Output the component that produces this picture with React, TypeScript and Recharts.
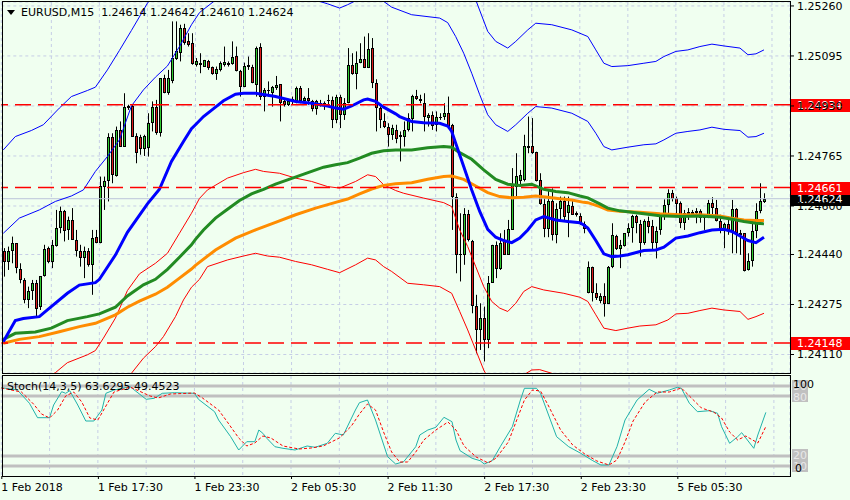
import React from "react";
import { Bar, CartesianGrid, ComposedChart, Line, ReferenceLine, XAxis, YAxis } from "recharts";

const FONT = "DejaVu Sans";
const BG = "#F0FFF0";
const GRID = "#C6CEE6";
const BULL = "#2FCB2F";
const BEAR = "#DD1A1A";

const symbol = "EURUSD,M15";
const lastBar = [1.24614, 1.24642, 1.2461, 1.24624];

// 15 min candles, 1 Feb 11:30 .. 5 Feb 11:00
const opens = [
  1.2445, 1.24416, 1.2445, 1.24477, 1.24391, 1.24356, 1.2429, 1.24318, 1.24347, 1.24268,
  1.24369, 1.24461, 1.24416, 1.24468, 1.24527, 1.24582, 1.24521, 1.24554, 1.24488, 1.2445,
  1.24427, 1.2445, 1.24406, 1.24497, 1.24477, 1.24664, 1.24681, 1.24829, 1.247, 1.24851,
  1.24796, 1.24923, 1.2493, 1.24831, 1.24829, 1.24787, 1.24791, 1.24873, 1.24926, 1.2484,
  1.25022, 1.24974, 1.25011, 1.25084, 1.25106, 1.25187, 1.25143, 1.25137, 1.25066, 1.25073,
  1.2506, 1.25079, 1.25058, 1.25036, 1.25049, 1.25066, 1.25071, 1.25069, 1.25095, 1.25047,
  1.24992, 1.2506, 1.2506, 1.25, 1.25124, 1.24961, 1.24983, 1.24974, 1.24989, 1.25002,
  1.24945, 1.24934, 1.24945, 1.24945, 1.24989, 1.24945, 1.24956, 1.24945, 1.24919, 1.24934,
  1.24941, 1.24945, 1.2495, 1.24884, 1.24961, 1.24901, 1.24939, 1.25066, 1.25036, 1.25071,
  1.25084, 1.25055, 1.25121, 1.25005, 1.24923, 1.24882, 1.2486, 1.24835, 1.24851, 1.24829,
  1.24829, 1.24851, 1.24886, 1.24964, 1.24952, 1.24941, 1.2489, 1.24901, 1.24868, 1.2489,
  1.24893, 1.24908, 1.24868, 1.24629, 1.24439, 1.24439, 1.24574, 1.24486, 1.2427, 1.24191,
  1.2423, 1.24158, 1.24347, 1.24472, 1.24391, 1.24483, 1.24439, 1.24521, 1.24664, 1.24681,
  1.24686, 1.24791, 1.24798, 1.24779, 1.24686, 1.24607, 1.24523, 1.24615, 1.24505, 1.24589,
  1.24615, 1.24576, 1.246, 1.24571, 1.24567, 1.24541, 1.24314, 1.244, 1.24314, 1.24285,
  1.24303, 1.24277, 1.244, 1.24501, 1.24457, 1.24469, 1.2451, 1.24527, 1.24567, 1.24541,
  1.24477, 1.24551, 1.24534, 1.24479, 1.24521, 1.24571, 1.24604, 1.24642, 1.24626, 1.24609,
  1.24543, 1.24574, 1.24579, 1.24576, 1.24583, 1.24565, 1.24565, 1.24611, 1.24593, 1.24552,
  1.24521, 1.24541, 1.24516, 1.24589, 1.2451, 1.2451, 1.24389, 1.24417, 1.24516, 1.24585,
  lastBar[0],
];
const highs = [
  1.24461, 1.24466, 1.24499, 1.24477, 1.24411, 1.24362, 1.24334, 1.24356, 1.24356, 1.24369,
  1.24472, 1.24466, 1.24488, 1.24587, 1.24598, 1.24587, 1.24565, 1.24593, 1.24521, 1.24472,
  1.24466, 1.24461, 1.24521, 1.24521, 1.24697, 1.24697, 1.2484, 1.2484, 1.24862, 1.24879,
  1.24972, 1.24934, 1.24934, 1.2484, 1.24835, 1.24835, 1.24906, 1.24945, 1.2495, 1.25022,
  1.25033, 1.25049, 1.25209, 1.25209, 1.25198, 1.25201, 1.2517, 1.2517, 1.25088, 1.25104,
  1.25082, 1.25082, 1.2506, 1.2506, 1.25077, 1.25126, 1.25077, 1.25143, 1.25126, 1.25049,
  1.25073, 1.25093, 1.25066, 1.25126, 1.25137, 1.24989, 1.25011, 1.24996, 1.25029, 1.25002,
  1.2495, 1.2495, 1.24961, 1.24994, 1.24996, 1.24961, 1.24989, 1.2495, 1.2495, 1.2495,
  1.24945, 1.24967, 1.24961, 1.24967, 1.24967, 1.24956, 1.25121, 1.25104, 1.2511, 1.25137,
  1.25159, 1.2517, 1.25154, 1.25018, 1.24928, 1.24906, 1.24873, 1.24868, 1.24868, 1.24846,
  1.24879, 1.24906, 1.24967, 1.24983, 1.24967, 1.24972, 1.24906, 1.24912, 1.24912, 1.24906,
  1.24939, 1.24961, 1.24871, 1.24642, 1.24576, 1.24593, 1.24587, 1.24488, 1.24307, 1.24279,
  1.24268, 1.24369, 1.24472, 1.24483, 1.2451, 1.24521, 1.24554, 1.24725, 1.24774, 1.24719,
  1.24835, 1.24895, 1.2489, 1.24779, 1.24708, 1.24631, 1.24653, 1.24658, 1.24609, 1.24631,
  1.24631, 1.24631, 1.2462, 1.24582, 1.24576, 1.24549, 1.24417, 1.244, 1.24345, 1.24312,
  1.24345, 1.24402, 1.24543, 1.24505, 1.24488, 1.2451, 1.24543, 1.24571, 1.24571, 1.24554,
  1.24556, 1.24565, 1.24554, 1.24532, 1.24576, 1.24622, 1.24655, 1.24653, 1.24631, 1.24615,
  1.24587, 1.24593, 1.24587, 1.24593, 1.24589, 1.24571, 1.2462, 1.24629, 1.2462, 1.24571,
  1.24545, 1.24565, 1.2462, 1.24593, 1.24521, 1.2451, 1.24444, 1.24554, 1.24609, 1.24675,
  lastBar[1],
];
const lows = [
  1.24367, 1.24389, 1.24411, 1.24378, 1.24345, 1.24279, 1.24263, 1.2429, 1.24235, 1.24257,
  1.24367, 1.24411, 1.24395, 1.24466, 1.2451, 1.24483, 1.24488, 1.24488, 1.24433, 1.244,
  1.24362, 1.244, 1.24307, 1.24477, 1.24477, 1.24587, 1.24615, 1.24675, 1.24697, 1.24796,
  1.24796, 1.24917, 1.24829, 1.24741, 1.24769, 1.24765, 1.24763, 1.24846, 1.24835, 1.24829,
  1.24972, 1.24967, 1.25005, 1.25082, 1.25077, 1.25132, 1.25126, 1.25066, 1.2506, 1.25038,
  1.2506, 1.25049, 1.25033, 1.25016, 1.25044, 1.2506, 1.2506, 1.25066, 1.25044, 1.24961,
  1.24992, 1.25049, 1.25005, 1.24961, 1.2495, 1.24912, 1.24961, 1.24928, 1.24983, 1.24879,
  1.24928, 1.2493, 1.24934, 1.24939, 1.24939, 1.24939, 1.24934, 1.24912, 1.24901, 1.24928,
  1.24917, 1.24928, 1.24857, 1.24873, 1.24857, 1.24884, 1.24939, 1.25033, 1.24985, 1.25071,
  1.25055, 1.25055, 1.24989, 1.24846, 1.24857, 1.24857, 1.24796, 1.24818, 1.24807, 1.24747,
  1.24796, 1.24846, 1.24846, 1.2495, 1.24939, 1.24846, 1.24862, 1.24851, 1.24846, 1.24884,
  1.24884, 1.24862, 1.24521, 1.24378, 1.24351, 1.24406, 1.24483, 1.24246, 1.24114, 1.24125,
  1.24087, 1.24131, 1.24347, 1.24362, 1.24389, 1.24439, 1.24439, 1.24521, 1.24631, 1.24664,
  1.24681, 1.24774, 1.24772, 1.24681, 1.24604, 1.24497, 1.24497, 1.24486, 1.24477, 1.24554,
  1.24549, 1.24497, 1.24571, 1.24565, 1.24538, 1.2451, 1.24312, 1.24285, 1.2429, 1.24279,
  1.24235, 1.24277, 1.24395, 1.24455, 1.24395, 1.24466, 1.24499, 1.24479, 1.2451, 1.24433,
  1.24472, 1.2451, 1.24455, 1.24427, 1.24505, 1.24554, 1.24565, 1.24615, 1.24565, 1.24527,
  1.24521, 1.24554, 1.24565, 1.24543, 1.24545, 1.24521, 1.2456, 1.24565, 1.24549, 1.2451,
  1.24461, 1.24505, 1.24444, 1.24444, 1.24439, 1.24384, 1.24387, 1.244, 1.24494, 1.24576,
  lastBar[2],
];
const closes = [
  1.24416, 1.2445, 1.24477, 1.24395, 1.24356, 1.2429, 1.2432, 1.24347, 1.24259, 1.24369,
  1.24457, 1.24416, 1.24472, 1.24527, 1.24582, 1.24516, 1.24554, 1.24488, 1.2445, 1.24427,
  1.2445, 1.24406, 1.24494, 1.24477, 1.24666, 1.24681, 1.24829, 1.24703, 1.24851, 1.24796,
  1.24928, 1.2493, 1.24829, 1.24776, 1.24787, 1.24831, 1.24873, 1.24926, 1.2484, 1.25022,
  1.24974, 1.25022, 1.25088, 1.2511, 1.25187, 1.25137, 1.25132, 1.25068, 1.25077, 1.25066,
  1.2508, 1.25055, 1.25036, 1.25051, 1.25073, 1.25075, 1.25064, 1.25093, 1.25044, 1.24992,
  1.25063, 1.25066, 1.25005, 1.25121, 1.24961, 1.24983, 1.24978, 1.24992, 1.25, 1.24939,
  1.24934, 1.24945, 1.24952, 1.24989, 1.24945, 1.24956, 1.24945, 1.24919, 1.24945, 1.24941,
  1.24937, 1.2495, 1.24884, 1.24961, 1.24901, 1.24939, 1.25066, 1.25036, 1.25071, 1.25084,
  1.25055, 1.25117, 1.25005, 1.24923, 1.24884, 1.2486, 1.24835, 1.24857, 1.2482, 1.24835,
  1.24851, 1.2489, 1.24964, 1.24952, 1.24945, 1.24895, 1.24901, 1.24864, 1.24895, 1.24895,
  1.24908, 1.24862, 1.24631, 1.24439, 1.24442, 1.24574, 1.24488, 1.2427, 1.24191, 1.2423,
  1.24158, 1.24347, 1.24472, 1.24391, 1.24479, 1.24439, 1.24523, 1.2467, 1.24699, 1.24703,
  1.24798, 1.24798, 1.24776, 1.24684, 1.24607, 1.24523, 1.24615, 1.24505, 1.24589, 1.24615,
  1.24565, 1.24604, 1.24571, 1.24576, 1.24541, 1.24523, 1.244, 1.24314, 1.24296, 1.24303,
  1.24277, 1.244, 1.24505, 1.24457, 1.24472, 1.2451, 1.24527, 1.24567, 1.24545, 1.24477,
  1.24551, 1.24532, 1.24479, 1.24518, 1.24571, 1.24604, 1.24642, 1.24622, 1.24607, 1.24543,
  1.24578, 1.24579, 1.24574, 1.24584, 1.2456, 1.2456, 1.24609, 1.24593, 1.24552, 1.24521,
  1.24541, 1.24519, 1.24589, 1.2451, 1.24505, 1.24384, 1.24417, 1.24516, 1.24585, 1.24615,
  lastBar[3],
];

// indicator lines, read as [bar index, value]
const maFast: [number, number][] = [
  [0, 1.24152], [3, 1.24222], [5, 1.24229], [9, 1.24235], [11, 1.24257], [16, 1.24312], [19, 1.24339],
  [23, 1.24347], [24, 1.24358], [28, 1.24438], [31, 1.24513], [36, 1.24607], [39, 1.24655], [42, 1.24747],
  [45, 1.24813], [47, 1.24855], [48, 1.24868], [50, 1.24895], [53, 1.24926], [55, 1.24947], [58, 1.24969],
  [60, 1.24972], [63, 1.24972], [68, 1.24961], [73, 1.24945], [77, 1.24939], [81, 1.2493], [83, 1.24923],
  [85, 1.24919], [87, 1.2493], [90, 1.2495], [91, 1.24953], [93, 1.24945], [95, 1.24926], [98, 1.24904],
  [99, 1.24895], [102, 1.24879], [105, 1.24875], [109, 1.24873], [111, 1.24864], [112, 1.24846],
  [113, 1.24807], [115, 1.2473], [117, 1.24653], [119, 1.24582], [121, 1.24523], [123, 1.24497],
  [125, 1.24486], [127, 1.24479], [129, 1.24494], [131, 1.24521], [133, 1.24554], [135, 1.24565],
  [138, 1.24554], [141, 1.24549], [144, 1.24545], [145, 1.24537], [146, 1.24527], [148, 1.24486],
  [150, 1.24442], [152, 1.24433], [154, 1.24435], [156, 1.24439], [160, 1.24453], [163, 1.24455],
  [165, 1.24464], [168, 1.24494], [171, 1.24501], [174, 1.24512], [177, 1.24521], [180, 1.24523],
  [182, 1.24516], [184, 1.24501], [186, 1.24486], [188, 1.24479], [190, 1.24497],
];
const maMid: [number, number][] = [
  [0, 1.2416], [3, 1.2418], [8, 1.24184], [12, 1.24197], [16, 1.24222], [21, 1.24235], [24, 1.24244],
  [28, 1.24266], [31, 1.24303], [35, 1.2434], [38, 1.24358], [41, 1.24391], [44, 1.24431], [47, 1.24472],
  [48, 1.2449], [50, 1.24521], [53, 1.2456], [56, 1.24589], [59, 1.24618], [62, 1.2464], [65, 1.24655],
  [68, 1.24672], [71, 1.24686], [74, 1.247], [77, 1.24714], [80, 1.24728], [83, 1.24736], [86, 1.24743],
  [89, 1.24758], [92, 1.24774], [95, 1.24782], [98, 1.24785], [102, 1.24785], [106, 1.24792],
  [110, 1.24796], [112, 1.24794], [114, 1.24776], [117, 1.24754], [120, 1.24719], [123, 1.24688],
  [126, 1.24672], [129, 1.24668], [132, 1.24672], [135, 1.24655], [138, 1.24648], [141, 1.24644],
  [144, 1.24633], [146, 1.24627], [149, 1.24607], [151, 1.24593], [154, 1.24584], [159, 1.24576],
  [164, 1.24568], [169, 1.24565], [174, 1.24567], [179, 1.24563], [182, 1.24556], [185, 1.24549],
  [188, 1.24543], [190, 1.24541],
];
const maSlow: [number, number][] = [
  [0, 1.24147], [4, 1.2416], [9, 1.24169], [14, 1.24185], [19, 1.24202], [23, 1.24213], [28, 1.24241],
  [31, 1.24266], [34, 1.24286], [38, 1.24309], [41, 1.24332], [44, 1.24362], [47, 1.24392], [48, 1.24404],
  [53, 1.24455], [58, 1.24494], [63, 1.24521], [68, 1.24546], [73, 1.24571], [78, 1.24593], [83, 1.24612],
  [86, 1.24623], [89, 1.2464], [92, 1.24656], [95, 1.24668], [98, 1.24673], [102, 1.24677], [106, 1.24688],
  [110, 1.24697], [112, 1.24699], [115, 1.24688], [118, 1.24666], [121, 1.24644], [124, 1.24631],
  [127, 1.24627], [130, 1.24629], [133, 1.24633], [136, 1.24629], [139, 1.24624], [142, 1.2462],
  [145, 1.24612], [146, 1.24611], [149, 1.24598], [151, 1.24587], [154, 1.24583], [159, 1.24579],
  [164, 1.24574], [169, 1.24571], [174, 1.24571], [179, 1.24567], [182, 1.2456], [185, 1.24554],
  [188, 1.24552], [190, 1.24552],
];
const envUpOuter: [number, number][] = [
  [0, 1.24785], [3, 1.24829], [7, 1.24849], [10, 1.24868], [14, 1.24923], [17, 1.24961], [21, 1.24981],
  [23, 1.24992], [26, 1.25049], [29, 1.25113], [32, 1.25179], [36, 1.25269], [38, 1.253], [44, 1.25401],
  [49, 1.25513], [60, 1.2556], [75, 1.25575], [88, 1.25552], [97, 1.25531], [109, 1.25495], [113, 1.25434],
  [117, 1.25346], [118, 1.2528], [121, 1.25176], [123, 1.25143], [126, 1.25121], [128, 1.25143],
  [131, 1.25181], [133, 1.25203], [137, 1.25198], [142, 1.25181], [146, 1.25159], [148, 1.25115],
  [150, 1.25071], [152, 1.2506], [156, 1.25063], [160, 1.25071], [163, 1.25077], [165, 1.25093],
  [168, 1.2511], [171, 1.25115], [174, 1.25126], [177, 1.25134], [180, 1.25128], [184, 1.25121],
  [186, 1.25099], [188, 1.25102], [190, 1.25115],
];
const envUpInner: [number, number][] = [
  [0, 1.2451], [4, 1.2456], [9, 1.24587], [13, 1.24615], [17, 1.24633], [20, 1.24653], [23, 1.24714],
  [26, 1.24763], [29, 1.24818], [32, 1.2493], [35, 1.24983], [38, 1.25025], [41, 1.25062], [44, 1.25126],
  [47, 1.25198], [49, 1.25238], [55, 1.253], [65, 1.2533], [75, 1.253], [79, 1.25275], [81, 1.25267],
  [84, 1.25253], [86, 1.25264], [88, 1.25277], [91, 1.2529], [95, 1.25275], [97, 1.25256], [102, 1.25231],
  [109, 1.2522], [111, 1.25205], [113, 1.25159], [115, 1.25104], [117, 1.25038], [119, 1.24967],
  [121, 1.24901], [123, 1.24868], [126, 1.24846], [128, 1.24868], [131, 1.24906], [133, 1.24928],
  [137, 1.24923], [142, 1.24906], [146, 1.24879], [148, 1.2484], [150, 1.24796], [152, 1.24785],
  [156, 1.24794], [160, 1.24802], [163, 1.24805], [165, 1.24818], [168, 1.2484], [171, 1.24846],
  [174, 1.24851], [177, 1.2486], [180, 1.24853], [184, 1.24849], [186, 1.24827], [188, 1.24829],
  [190, 1.2484],
];
const envLoUpper: [number, number][] = [
  [0, 1.23982], [8, 1.24015], [13, 1.2405], [16, 1.24083], [21, 1.24109], [23, 1.24123], [25, 1.24164],
  [28, 1.2423], [31, 1.24321], [34, 1.24376], [38, 1.24411], [41, 1.24444], [44, 1.2451], [47, 1.24576],
  [49, 1.24625], [51, 1.24653], [56, 1.24692], [60, 1.2471], [63, 1.24721], [65, 1.24714], [69, 1.24708],
  [73, 1.24692], [77, 1.24681], [81, 1.24664], [84, 1.24659], [88, 1.24681], [91, 1.24703], [93, 1.24697],
  [95, 1.2467], [98, 1.24651], [100, 1.24642], [105, 1.24626], [110, 1.24611], [112, 1.24598],
  [114, 1.24521], [116, 1.24466], [118, 1.244], [120, 1.24334], [122, 1.24285], [124, 1.24263],
  [126, 1.24252], [128, 1.24279], [130, 1.24318], [132, 1.24334], [135, 1.24323], [140, 1.24312],
  [144, 1.24299], [146, 1.24285], [148, 1.24241], [150, 1.24197], [153, 1.24189], [156, 1.24197],
  [159, 1.24204], [163, 1.24208], [166, 1.24224], [168, 1.24244], [171, 1.24246], [174, 1.24255],
  [177, 1.24263], [180, 1.24257], [184, 1.24252], [186, 1.24226], [188, 1.24235], [190, 1.24246],
];
const envLoLower: [number, number][] = [
  [0, 1.23707], [13, 1.23773], [21, 1.23834], [25, 1.23889], [28, 1.23955], [32, 1.24048], [35, 1.24098],
  [38, 1.24136], [40, 1.24169], [43, 1.24235], [45, 1.2429], [47, 1.24332], [49, 1.24358], [51, 1.244],
  [56, 1.24422], [60, 1.24435], [63, 1.24444], [66, 1.24435], [69, 1.24431], [73, 1.24417], [77, 1.24406],
  [81, 1.24391], [84, 1.2438], [88, 1.24406], [91, 1.24428], [93, 1.24422], [95, 1.244], [97, 1.24384],
  [101, 1.24345], [105, 1.2434], [109, 1.24334], [112, 1.24312], [114, 1.24252], [116, 1.24191],
  [118, 1.24125], [120, 1.24059], [122, 1.2401], [126, 1.23977], [128, 1.24004], [130, 1.24043],
  [132, 1.24059], [134, 1.2406], [137, 1.24048], [140, 1.24037], [146, 1.2401], [150, 1.23922],
  [160, 1.23933], [170, 1.23971], [180, 1.23982], [186, 1.23951], [190, 1.23971],
];
const stMain: [number, number][] = [
  [0, 88.3], [4, 86], [7, 72.7], [9, 58.3], [12, 58.3], [13, 71], [15, 84.3], [16, 82.7], [17, 85.3],
  [19, 71], [21, 55], [23, 55], [25, 66], [26, 82.7], [28, 86], [32, 89.3], [36, 76.7], [38, 77.7],
  [40, 82.7], [43, 83.3], [48, 82.7], [49, 76.7], [53, 64.3], [54, 56], [57, 39.3], [59, 26], [61, 34.3],
  [63, 34.3], [64, 46], [65, 42.7], [66, 37.7], [68, 29.3], [70, 27.7], [73, 26], [76, 30], [78, 28.7],
  [81, 32.7], [83, 42.7], [85, 41], [88, 66], [89, 73.3], [91, 76], [93, 56], [96, 19.3], [98, 12],
  [100, 14.3], [103, 29.3], [104, 41], [106, 46], [108, 48.7], [110, 58.7], [112, 54.3], [113, 36],
  [114, 25.3], [117, 17.7], [119, 15.3], [120, 12], [122, 15.3], [124, 29.3], [127, 49.3], [129, 76],
  [130, 87.7], [133, 87.7], [134, 82.7], [138, 39.3], [141, 29.3], [144, 22.7], [147, 15.3], [149, 11],
  [151, 11], [153, 29.3], [155, 56], [158, 76], [161, 86.7], [163, 82.7], [166, 86], [168, 88.7],
  [169, 87.7], [171, 72.7], [173, 64.3], [176, 65.3], [178, 62.7], [179, 49.3], [181, 32.7], [183, 39.3],
  [184, 43.3], [187, 27.7], [188, 41], [190, 63.6295],
];
const stSignal: [number, number][] = [
  [0, 88], [5, 84], [8, 72], [10, 62], [12, 58], [14, 66], [16, 80], [18, 84], [20, 74], [22, 58],
  [24, 56], [26, 70], [28, 84], [32, 89], [37, 80], [39, 78], [42, 82], [48, 83], [50, 78], [54, 66],
  [56, 55], [59, 38], [61, 30], [63, 33], [65, 40], [67, 38], [70, 30], [74, 27], [77, 28], [80, 30],
  [84, 38], [87, 50], [89, 62], [91, 72], [93, 66], [95, 44], [97, 24], [99, 14], [101, 14], [103, 24],
  [105, 36], [108, 46], [111, 54], [113, 46], [115, 30], [118, 19], [121, 13], [123, 18], [126, 34],
  [128, 55], [130, 76], [132, 86], [134, 85], [136, 70], [139, 46], [142, 31], [145, 22], [148, 15],
  [151, 11], [153, 16], [155, 34], [157, 55], [160, 74], [163, 84], [166, 84], [169, 88], [171, 80],
  [174, 68], [177, 64], [179, 58], [181, 44], [183, 36], [185, 40], [188, 33], [190, 49.4523],
];

const slots = 197; // chart shift: empty room right of the last bar
const gridTicks = [12, 24, 36, 48, 60, 72, 84, 96, 108, 120, 132, 144, 156, 168, 180, 192];
const timeTicks = [0, 24, 48, 72, 96, 120, 144, 168];
const timeLabels = ["1 Feb 2018", "1 Feb 17:30", "1 Feb 23:30", "2 Feb 05:30", "2 Feb 11:30", "2 Feb 17:30", "2 Feb 23:30", "5 Feb 05:30"];
const priceTicks = [1.2526, 1.25095, 1.2493, 1.24765, 1.246, 1.2444, 1.24275, 1.2411];
const priceDomain = [1.24049, 1.25273];
const alertLevels = [1.24934, 1.24661, 1.24148];
const bid = lastBar[3];
const stochLevels = [90, 80, 20, 10];
const stochReadout = [63.6295, 49.4523];

const lineSets: Record<string, [number, number][]> = {
  maFast, maMid, maSlow, envUpOuter, envUpInner, envLoUpper, envLoLower, stMain, stSignal,
};

const rows = Array.from({ length: slots }, (_, i) => {
  const row: Record<string, any> = { i };
  if (i < opens.length) {
    row.o = opens[i];
    row.h = highs[i];
    row.l = lows[i];
    row.c = closes[i];
    row.range = [lows[i], highs[i]];
  }
  for (const key in lineSets) {
    const hit = lineSets[key].find((p) => p[0] === i);
    row[key] = hit ? hit[1] : null;
  }
  return row;
});

function Candle(props: any) {
  const { x, y, width, height, payload } = props;
  if (!payload || payload.range == null) return null;
  const { o, h, l, c } = payload;
  const top = Math.min(y, y + height);
  const bot = Math.max(y, y + height);
  const span = h - l || 1;
  const py = (v: number) => top + ((h - v) / span) * (bot - top);
  const cx = Math.round(x + width / 2);
  const bTop = Math.round(py(Math.max(o, c)));
  const bBot = Math.max(bTop + 1, Math.round(py(Math.min(o, c))));
  return (
    <g>
      <line x1={cx + 0.5} x2={cx + 0.5} y1={top} y2={bot} stroke="#000" />
      <rect x={cx - 1} y={bTop} width={3} height={bBot - bTop} fill="#000" />
      {bBot - bTop > 2 && (
        <rect x={cx} y={bTop + 1} width={1} height={bBot - bTop - 2} fill={c >= o ? BULL : BEAR} />
      )}
    </g>
  );
}

function PriceTag({ viewBox, text, bg }: any) {
  if (!viewBox) return null;
  const x = viewBox.x + viewBox.width;
  const y = Math.round(viewBox.y);
  return (
    <g>
      <rect x={x + 1} y={y - 6} width={59} height={13} fill={bg} />
      <text x={x + 7} y={y + 0.5} dy="0.36em" fill="#fff" fontSize={11} fontFamily={FONT}>
        {text}
      </text>
    </g>
  );
}

function TimeTick({ x, y, payload }: any) {
  const k = timeTicks.indexOf(payload.value);
  if (k < 0) return null;
  return (
    <g>
      <line x1={x + 0.5} x2={x + 0.5} y1={y} y2={y + 3} stroke="#000" />
      <text x={x} y={y + 7} dy="0.71em" textAnchor="start" fontSize={11} fontFamily={FONT} fill="#000">
        {timeLabels[k]}
      </text>
    </g>
  );
}

const txt = (extra: React.CSSProperties): React.CSSProperties => ({
  position: "absolute",
  fontFamily: FONT,
  fontSize: 11,
  lineHeight: "13px",
  whiteSpace: "pre",
  color: "#000",
  ...extra,
});

export default function App() {
  return (
    <div style={{ position: "absolute", left: 0, top: 0, width: 850, height: 500, background: BG, overflow: "hidden" }}>
      <div style={{ position: "absolute", left: 0, top: 0 }}>
        <ComposedChart width={850} height={373} data={rows} margin={{ top: 2, right: 0, bottom: 0, left: 1.3 }}>
          <CartesianGrid stroke={GRID} strokeDasharray="3 3" />
          <XAxis dataKey="i" hide ticks={gridTicks} interval={0} />
          <YAxis
            orientation="right"
            width={60}
            domain={priceDomain}
            allowDataOverflow
            ticks={priceTicks}
            interval={0}
            tickFormatter={(v: number) => v.toFixed(5)}
            tick={{ fontSize: 11, fill: "#000", fontFamily: FONT }}
            tickSize={4}
            tickMargin={3}
            axisLine={false}
            tickLine={{ stroke: "#000" }}
          />
          <ReferenceLine y={bid} stroke="#BCC4DA" label={<PriceTag text={bid.toFixed(5)} bg="#000" />} />
          <Line dataKey="envUpOuter" stroke="#0000FF" strokeWidth={1} dot={false} connectNulls isAnimationActive={false} />
          <Line dataKey="envUpInner" stroke="#0000FF" strokeWidth={1} dot={false} connectNulls isAnimationActive={false} />
          <Line dataKey="envLoUpper" stroke="#FF0000" strokeWidth={1} dot={false} connectNulls isAnimationActive={false} />
          <Line dataKey="envLoLower" stroke="#FF0000" strokeWidth={1} dot={false} connectNulls isAnimationActive={false} />
          <Line dataKey="maSlow" stroke="#FF8C00" strokeWidth={3} dot={false} connectNulls isAnimationActive={false} />
          <Line dataKey="maMid" stroke="#228B22" strokeWidth={3} dot={false} connectNulls isAnimationActive={false} />
          <Line dataKey="maFast" stroke="#0000FF" strokeWidth={3} dot={false} connectNulls isAnimationActive={false} />
          <Bar dataKey="range" barSize={3} shape={<Candle />} isAnimationActive={false} />
          {alertLevels.map((v) => (
            <ReferenceLine
              key={v}
              y={v}
              stroke="#FF0000"
              strokeWidth={1.3}
              strokeDasharray="16 7"
              label={<PriceTag text={v.toFixed(5)} bg="#FF0000" />}
            />
          ))}
        </ComposedChart>
      </div>

      <div style={{ position: "absolute", left: 0, top: 375 }}>
        <ComposedChart width={850} height={125} data={rows} margin={{ top: 1, right: 0, bottom: 0, left: 1.3 }}>
          <CartesianGrid stroke={GRID} strokeDasharray="3 3" horizontal={false} />
          <XAxis
            dataKey="i"
            ticks={[0, ...gridTicks]}
            interval={0}
            height={24}
            tickSize={0}
            tickMargin={0}
            axisLine={false}
            tickLine={false}
            tick={<TimeTick />}
          />
          <YAxis orientation="right" width={60} domain={[0, 100]} tick={false} axisLine={false} tickLine={false} />
          {stochLevels.map((v) => (
            <ReferenceLine key={v} y={v} stroke="#C0C0C0" strokeWidth={3} />
          ))}
          <Line dataKey="stMain" stroke="#20B2AA" strokeWidth={1} dot={false} connectNulls isAnimationActive={false} />
          <Line dataKey="stSignal" stroke="#FF0000" strokeWidth={1} strokeDasharray="3 2" dot={false} connectNulls isAnimationActive={false} />
        </ComposedChart>
      </div>

      {/* panel frames */}
      <div style={{ position: "absolute", left: 2, top: 1, width: 789, height: 373, border: "1px solid #000", boxSizing: "border-box" }} />
      <div style={{ position: "absolute", left: 2, top: 375, width: 789, height: 102, border: "1px solid #000", boxSizing: "border-box" }} />

      {/* header */}
      <svg style={{ position: "absolute", left: 7, top: 10 }} width={9} height={6}>
        <polygon points="0,0 8,0 4,5" fill="#000" />
      </svg>
      <div style={txt({ left: 21, top: 6 })}>
        {symbol + "  " + lastBar.map((v) => v.toFixed(5)).join(" ")}
      </div>
      <div style={txt({ left: 7, top: 380 })}>
        {"Stoch(14,3,5) " + stochReadout.map((v) => v.toFixed(4)).join(" ")}
      </div>

      {/* stochastic level boxes and scale */}
      <div style={{ position: "absolute", left: 792, top: 380, width: 16, height: 22, background: "#C0C0C0" }} />
      <div style={{ position: "absolute", left: 792, top: 449, width: 16, height: 23, background: "#C0C0C0" }} />
      <div style={txt({ left: 793, top: 380, color: "#E8E8E8" })}>{String(stochLevels[0])}</div>
      <div style={txt({ left: 793, top: 391, color: "#E8E8E8" })}>{String(stochLevels[1])}</div>
      <div style={txt({ left: 793, top: 449, color: "#E8E8E8" })}>{String(stochLevels[2])}</div>
      <div style={txt({ left: 793, top: 460, color: "#E8E8E8" })}>{String(stochLevels[3])}</div>
      <div style={txt({ left: 793, top: 378 })}>100</div>
      <div style={txt({ left: 795, top: 462 })}>0</div>
    </div>
  );
}
